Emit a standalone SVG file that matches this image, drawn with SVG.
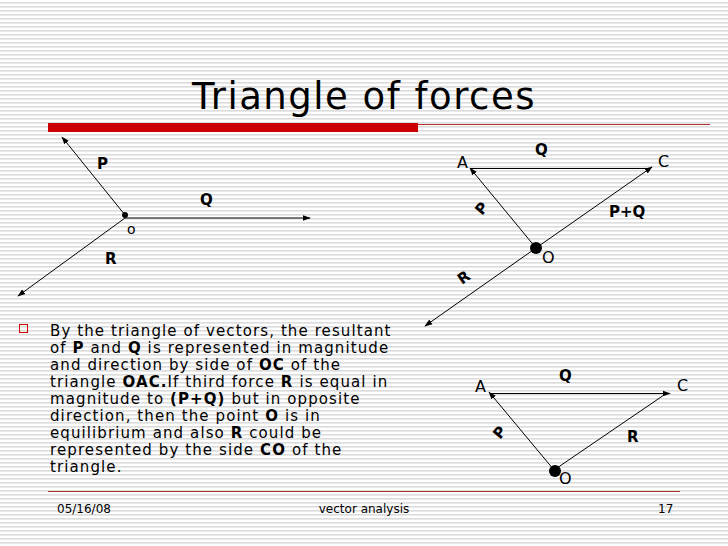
<svg xmlns="http://www.w3.org/2000/svg" width="728" height="546" viewBox="0 0 728 546">
<defs>
<pattern id="bg" width="8" height="4" patternUnits="userSpaceOnUse"><rect width="8" height="4" fill="#fff"/><rect y="2" width="8" height="1.6" fill="#dcdcdc"/></pattern>
<marker id="ah" viewBox="0 0 10 10" refX="9" refY="5" markerWidth="8" markerHeight="8" orient="auto" markerUnits="userSpaceOnUse"><path d="M0,1.5 L10,5 L0,8.5 Z" fill="#000"/></marker>
</defs>
<style>
.l{stroke:#000;stroke-width:1;fill:none}
.a{marker-end:url(#ah)}
.t{font-family:"DejaVu Sans",Verdana,sans-serif;fill:#000}
.b{font-weight:bold;font-size:15px}
.n{font-size:16px}
.p{font-size:15px;letter-spacing:1.1px}
</style>
<rect width="728" height="546" fill="url(#bg)"/>
<text class="t" x="364" y="109" font-size="37" letter-spacing="1.5" text-anchor="middle">Triangle of forces</text>
<rect x="48" y="123" width="370" height="9" fill="#cc0000"/>
<line x1="418" y1="124.5" x2="710" y2="124.5" stroke="#b03030" stroke-width="1"/>
<line x1="48" y1="491.5" x2="680" y2="491.5" stroke="#b03030" stroke-width="1"/>
<g id="connectors">
<line class="l a" x1="125" y1="215" x2="62" y2="137"/>
<line class="l a" x1="125" y1="218" x2="310" y2="218"/>
<line class="l a" x1="125" y1="218" x2="18" y2="296"/>
<line class="l" x1="470" y1="168.5" x2="650" y2="168.5"/>
<line class="l a" x1="536" y1="248" x2="470" y2="168"/>
<line class="l a" x1="536" y1="248" x2="652" y2="167"/>
<line class="l a" x1="536" y1="248" x2="425" y2="326"/>
<line class="l a" x1="490" y1="393.5" x2="670" y2="393.5"/>
<line class="l a" x1="554" y1="470" x2="489" y2="392"/>
<line class="l" x1="554" y1="470" x2="664" y2="395"/>
</g>
<g id="left">
<circle cx="125" cy="215" r="3"/>
<text class="t b" x="97" y="169">P</text>
<text class="t b" x="200" y="205">Q</text>
<text class="t b" x="105" y="264">R</text>
<text class="t" x="127" y="234" font-size="14">o</text>
</g>
<g id="top">
<circle cx="536" cy="248" r="6"/>
<text class="t n" x="457" y="168">A</text>
<text class="t n" x="658" y="167">C</text>
<text class="t n" x="542" y="263">O</text>
<text class="t b" x="535" y="155">Q</text>
<text class="t b" x="609" y="217">P+Q</text>
<text class="t b" transform="translate(482,216) rotate(-50)">P</text>
<text class="t b" transform="translate(462,285) rotate(-35)">R</text>
</g>
<g id="bottom">
<circle cx="555" cy="471" r="6"/>
<text class="t n" x="475" y="392">A</text>
<text class="t n" x="677" y="391">C</text>
<text class="t n" x="559" y="484">O</text>
<text class="t b" x="559" y="381">Q</text>
<text class="t b" x="627" y="442">R</text>
<text class="t b" transform="translate(500,440) rotate(-50)">P</text>
</g>
<g id="bullet">
<rect x="19.5" y="324.5" width="8" height="8" fill="none" stroke="#cc0000" stroke-width="1"/>
<text class="t p">
<tspan x="50" y="336">By the triangle of vectors, the resultant</tspan>
<tspan x="50" y="353">of <tspan font-weight="bold">P</tspan> and <tspan font-weight="bold">Q</tspan> is represented in magnitude</tspan>
<tspan x="50" y="370">and direction by side of <tspan font-weight="bold">OC</tspan> of the</tspan>
<tspan x="50" y="387">triangle <tspan font-weight="bold">OAC.</tspan>If third force <tspan font-weight="bold">R</tspan> is equal in</tspan>
<tspan x="50" y="404">magnitude to <tspan font-weight="bold">(P+Q)</tspan> but in opposite</tspan>
<tspan x="50" y="421">direction, then the point <tspan font-weight="bold">O</tspan> is in</tspan>
<tspan x="50" y="438">equilibrium and also <tspan font-weight="bold">R</tspan> could be</tspan>
<tspan x="50" y="455">represented by the side <tspan font-weight="bold">CO</tspan> of the</tspan>
<tspan x="50" y="472">triangle.</tspan>
</text>
</g>
<g id="footer">
<text class="t" x="57" y="513" font-size="12">05/16/08</text>
<text class="t" x="364" y="513" font-size="12" text-anchor="middle">vector analysis</text>
<text class="t" x="658" y="513" font-size="12">17</text>
</g>
</svg>
